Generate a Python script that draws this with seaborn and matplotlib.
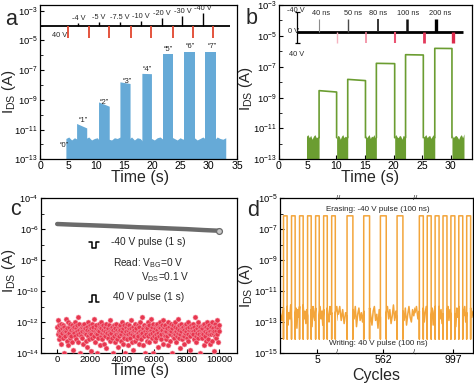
import numpy as np
import matplotlib
matplotlib.use("Agg")
import matplotlib.pyplot as plt
import seaborn as sns
from matplotlib.ticker import FixedLocator, FuncFormatter, NullFormatter

sns.set_theme(style="ticks")
plt.rcParams["font.family"] = ["Liberation Sans", "DejaVu Sans"]
plt.rcParams["mathtext.default"] = "regular"

# ---------------- panel a data (log10 of I_DS) ----------------
a_xticks = [0, 5, 10, 15, 20, 25, 30, 35]
a_noise_span = [4.6, 33.0]
a_noise_top = [-11.6, -11.5, -11.7, -11.55, -11.65, -11.5, -11.75, -11.6, -11.5, -11.7,
               -11.6, -11.55, -11.8, -11.6, -11.5, -11.65, -11.7, -11.55, -11.6, -11.5,
               -11.75, -11.6, -11.65, -11.5, -11.7, -11.55, -11.6, -11.8, -11.5, -11.65,
               -11.6, -11.7, -11.55, -11.5, -11.65, -11.6, -11.75, -11.5, -11.6, -11.7,
               -11.55, -11.65, -11.5, -11.6, -11.8, -11.55, -11.7, -11.6, -11.5, -11.65,
               -11.6, -11.55, -11.7, -11.5, -11.6, -11.65, -11.55]
a_block_start = [6.5, 10.4, 14.2, 18.1, 21.8, 25.6, 29.4]
a_block_end = [8.3, 12.3, 16.0, 19.8, 23.7, 27.5, 31.3]
a_block_top_start = [-10.59, -9.14, -7.79, -7.22, -5.92, -5.76, -5.76]
a_block_top_end = [-10.89, -9.43, -7.90, -7.24, -5.92, -5.76, -5.76]
a_state_labels = ["\u201c0\u201d", "\u201c1\u201d", "\u201c2\u201d", "\u201c3\u201d",
                  "\u201c4\u201d", "\u201c5\u201d", "\u201c6\u201d", "\u201c7\u201d"]
a_state_t = [4.3, 7.7, 11.5, 15.5, 19.1, 22.8, 26.8, 30.6]
a_state_e = [-12.05, -10.4, -9.2, -7.74, -6.95, -5.6, -5.43, -5.43]
a_timeline_level = -4.01
a_timeline_span = [0.0, 33.7]
a_erase_labels = ["-4 V", "-5 V", "-7.5 V", "-10 V", "-20 V", "-30 V", "-40 V"]
a_erase_t = [6.8, 10.5, 14.2, 17.9, 21.6, 25.3, 29.0]
a_erase_top = [-3.85, -3.78, -3.73, -3.67, -3.51, -3.36, -3.18]
a_write_t = [4.9, 8.76, 12.3, 16.2, 19.8, 23.6, 27.2, 30.8]
a_write_bottom = -4.86
a_write_label = "40 V"
a_write_label_pos = [3.55, -4.64]

# ---------------- panel b data ----------------
b_xticks = [0, 5, 10, 15, 20, 25, 30]
b_noise_start = [4.8, 10.06, 15.1, 20.2, 25.2, 30.2]
b_noise_end = [7.0, 12.0, 17.0, 22.1, 27.2, 32.3]
b_noise_top = [
    [-11.5, -11.4, -11.6, -11.45, -11.7, -11.5, -11.4, -11.6, -11.55, -11.45],
    [-11.6, -11.45, -11.5, -11.7, -11.5, -11.4, -11.6, -11.5, -11.55, -11.45],
    [-11.45, -11.6, -11.5, -11.4, -11.65, -11.5, -11.55, -11.4, -11.6, -11.5],
    [-11.5, -11.4, -11.55, -11.6, -11.45, -11.5, -11.7, -11.45, -11.5, -11.4],
    [-11.55, -11.5, -11.4, -11.6, -11.5, -11.45, -11.65, -11.5, -11.4, -11.55],
    [-11.4, -11.6, -11.5, -11.45, -11.55, -11.7, -11.5, -11.4, -11.6, -11.35],
]
b_block_start = [7.0, 12.0, 17.0, 22.1, 27.2]
b_block_end = [10.06, 15.1, 20.2, 25.2, 30.2]
b_block_top_start = [-8.55, -7.82, -6.78, -6.22, -5.81]
b_block_top_end = [-8.64, -7.90, -6.80, -6.24, -5.82]
b_block_floor = -11.6
b_timeline_level = -4.73
b_timeline_span = [3.2, 32.2]
b_bar_t = 3.2
b_bar_range = [-3.43, -5.48]
b_bar_labels = ["-40 V", "0 V", "40 V"]
b_bar_label_t = [2.88, 2.55, 3.1]
b_bar_label_e = [-3.38, -4.73, -6.18]
b_erase_t = [7.04, 12.1, 17.2, 22.3, 27.4]
b_erase_top = -3.9
b_erase_labels = ["40 ns", "50 ns", "80 ns", "100 ns", "200 ns"]
b_erase_label_t = [7.3, 13.0, 17.3, 22.5, 28.1]
b_erase_colors = ["#8c8c8c", "#4a4a4a", "#262626", "#111111", "#000000"]
b_erase_widths = [0.8, 1.0, 1.3, 1.8, 2.4]
b_write_t = [10.07, 15.14, 20.26, 25.3, 30.3]
b_write_bottom = -5.48
b_write_colors = ["#f5b3c0", "#f07d95", "#ea5473", "#e33a5c", "#dc2a4c"]
b_write_widths = [1.0, 1.1, 1.5, 2.0, 2.4]

# ---------------- panel c data ----------------
c_xticks = [0, 2000, 4000, 6000, 8000, 10000]
c_time = [0, 1000, 2000, 3000, 4000, 5000, 6000, 7000, 8000, 9000, 10000]
c_erased = [2.1e-6, 1.9e-6, 1.75e-6, 1.6e-6, 1.45e-6, 1.3e-6, 1.2e-6, 1.08e-6, 0.98e-6, 0.86e-6, 0.77e-6]
c_written_exp = [
    -12.3, -12.8, -11.9, -12.6, -13.1, -12.2, -12.9, -12.5, -13.4, -12.1, -12.7, -12.4, -13.0, -12.2, -12.6, -14.0, -12.3, -12.9, -12.5, -11.8,
    -12.6, -13.2, -12.4, -12.0, -12.8, -13.5, -12.3, -12.7, -12.1, -13.0, -12.5, -12.9, -13.3, -12.2, -12.6, -12.4, -13.8, -12.7, -12.3, -12.0,
    -12.9, -12.4, -13.1, -12.2, -12.6, -11.7, -12.8, -13.3, -12.5, -12.1, -12.7, -14.0, -12.4, -12.9, -12.3, -13.0, -12.6, -12.2, -13.4, -12.5,
    -12.1, -12.7, -12.4, -13.2, -12.8, -12.3, -13.6, -12.5, -12.0, -12.9, -12.6, -13.1, -12.2, -12.7, -13.9, -12.4, -12.8, -12.1, -13.0, -12.5,
    -12.3, -12.9, -11.8, -12.6, -13.3, -12.4, -12.7, -12.2, -14.0, -12.8, -12.5, -13.0, -12.1, -12.6, -13.5, -12.3, -12.9, -12.4, -12.0, -12.7,
    -13.1, -12.5, -12.2, -12.8, -13.4, -12.6, -12.3, -12.9, -12.1, -13.7, -12.5, -12.7, -12.4, -13.0, -12.2, -12.8, -13.2, -12.6, -11.9, -12.4,
    -12.7, -13.0, -12.3, -12.5, -14.0, -12.9, -12.2, -12.6, -13.3, -12.4, -12.8, -12.1, -13.1, -12.5, -12.7, -13.6, -12.3, -12.9, -12.6, -12.2,
    -12.5, -13.2, -12.8, -12.0, -12.6, -13.4, -12.4, -12.9, -12.2, -13.0, -12.7, -14.0, -12.3, -12.6, -12.1, -13.1, -12.8, -12.5, -13.5, -12.4,
    -12.2, -12.7, -13.0, -12.4, -11.9, -12.8, -13.3, -12.6, -12.3, -13.8, -12.5, -12.9, -12.1, -13.2, -12.6, -12.4, -12.8, -13.0, -12.2, -12.7,
    -12.9, -12.3, -13.4, -12.6, -12.0, -12.8, -13.1, -12.5, -11.7, -12.7, -13.5, -12.4, -12.9, -12.2, -14.0, -12.6, -12.3, -12.8, -13.2, -12.5,
    -12.4, -12.0, -12.9, -13.3, -12.2, -12.6, -12.8, -11.8, -12.5, -13.0, -12.3, -12.7, -14.0, -12.1, -12.6, -12.9, -13.2, -12.4, -12.2, -12.8,
    -13.0, -12.5, -12.1, -12.7, -13.6, -12.3, -12.9, -12.4, -12.0, -12.6, -13.1, -12.8, -12.2, -12.5, -11.9, -13.4, -12.7, -12.3, -12.9, -12.6,
    -12.2, -13.1, -12.6, -12.4, -12.9, -12.0, -13.5, -12.7, -12.3, -12.8, -12.5, -13.2, -12.1, -12.6, -14.0, -12.4, -12.9, -12.2, -13.0, -12.7,
    -12.8, -12.3, -12.0, -13.3, -12.6, -12.4, -12.9, -11.8, -12.7, -13.0, -12.2, -12.5, -13.7, -12.8, -12.1, -12.6, -12.4, -13.1, -12.3, -12.9,
    -12.5, -12.9, -13.4, -12.2, -12.7, -12.1, -12.6, -13.0, -12.4, -12.8, -12.0, -13.2, -12.5, -12.3, -12.9, -13.8, -12.6, -12.2, -12.7, -12.4,
    -12.1, -12.6, -12.8, -13.1, -12.3, -12.5, -11.7, -12.9, -13.3, -12.4, -12.7, -12.2, -12.0, -13.0, -12.6, -12.8, -14.0, -12.3, -12.5, -12.9,
    -12.7, -12.4, -13.0, -12.2, -12.8, -13.5, -12.1, -12.6, -12.9, -12.3, -13.2, -12.5, -12.0, -12.7, -12.4, -13.1, -12.8, -12.2, -12.6, -13.4,
    -12.3, -12.8, -12.5, -12.0, -13.2, -12.7, -12.4, -13.9, -12.6, -12.1, -12.9, -12.3, -13.0, -12.6, -11.9, -12.8, -12.4, -13.3, -12.2, -12.6,
]
c_written_span = [0, 10000]

# ---------------- panel d data ----------------
d_high = -6.15
d_dip = -14.1
d1_cycles = [1, 2, 3, 4, 5, 6, 7]
d2_cycles = [560, 561, 562, 563]
d3_cycles = [993, 994, 995, 996, 997, 998, 999]
d_tick_labels = ["5", "562", "997"]
d1_noise = [
    [-12.3, -12.9, -12.1],
    [-12.0, -13.2, -12.4, -12.8, -11.9, -13.0],
    [-12.5, -12.1, -13.4, -12.2, -12.7, -12.0],
    [-11.9, -12.8, -12.3, -13.1, -12.2, -12.6],
    [-12.2, -13.3, -12.0, -12.6, -12.9, -12.1],
    [-12.6, -12.0, -12.8, -12.3, -13.2, -12.2],
    [-12.1, -12.7, -13.0, -12.0, -12.5, -12.4],
    [-12.4, -12.0, -12.9],
]
d2_noise = [
    [-12.5, -12.0, -12.9, -12.2, -13.1, -12.4, -12.7],
    [-12.2, -12.8, -12.0, -13.3, -12.5, -12.1, -12.9, -12.4, -13.0, -12.3],
    [-12.1, -12.6, -13.2, -12.3, -12.0, -12.9, -12.5, -13.4, -12.2, -12.7],
    [-12.4, -12.0, -12.8, -12.2, -13.1, -12.6, -11.9, -12.9, -12.3, -13.0],
    [-12.3, -12.9, -12.1, -13.2, -12.5, -12.0, -12.7, -13.0, -12.2, -12.6, -12.1],
]
d3_noise = [
    [-12.4, -12.0, -12.8, -12.3],
    [-12.1, -13.0, -12.4, -12.0, -12.7],
    [-12.6, -12.1, -13.2, -12.3, -12.0],
    [-12.0, -12.8, -12.2, -13.1, -12.5],
    [-12.3, -12.0, -12.9, -12.2, -12.6],
    [-12.5, -13.3, -12.1, -12.7, -12.0],
    [-12.2, -12.6, -12.0, -13.0, -12.4],
    [-12.1, -12.7, -12.3],
]

# ---------------- styling ----------------
W, H = 474, 386
blue = "#66aad7"
green = "#6b9d31"
red_a = "#e2472f"
red_c = "#e8364f"
gray = "#6b6b6b"
orange = "#f3a53b"


def fr(px_left, px_top, px_right, px_bottom):
    return [px_left / W, 1 - px_bottom / H, (px_right - px_left) / W, (px_bottom - px_top) / H]


def log_fmt(v, pos):
    return r"$\mathregular{10^{%d}}$" % int(round(np.log10(v)))


def style_log(ax, lo, hi, label_exps, xfs, yfs):
    ax.set_yscale("log")
    ax.set_ylim(10.0 ** lo, 10.0 ** hi)
    ax.yaxis.set_major_locator(FixedLocator([10.0 ** e for e in label_exps]))
    minors = [10.0 ** e for e in range(int(np.floor(lo)), int(np.ceil(hi)) + 1) if e not in label_exps]
    ax.yaxis.set_minor_locator(FixedLocator(minors))
    ax.yaxis.set_major_formatter(FuncFormatter(log_fmt))
    ax.yaxis.set_minor_formatter(NullFormatter())
    ax.tick_params(axis="both", which="major", direction="in", length=3, width=0.8,
                   colors="black", pad=1.5)
    ax.tick_params(axis="y", which="minor", direction="in", length=2, width=0.7)
    ax.tick_params(axis="x", which="major", labelsize=xfs)
    ax.tick_params(axis="y", which="major", labelsize=yfs)
    ax.tick_params(top=False, right=False, which="both")
    for s in ax.spines.values():
        s.set_linewidth(0.9)
        s.set_color("black")


fig = plt.figure(figsize=(W / 100, H / 100), dpi=100)
ylab = r"$\mathregular{I_{DS}}$ (A)"
ylab_fs = 10.8

# ================= panel a =================
ax = fig.add_axes(fr(40, 5, 237, 159.3))
style_log(ax, -13, -2.62, [-3, -5, -7, -9, -11, -13], 7.6, 6.8)
ax.set_xlim(0, 35)
ax.set_xticks(a_xticks)
tn = np.linspace(a_noise_span[0], a_noise_span[1], len(a_noise_top))
ax.fill_between(tn, 1e-14, 10.0 ** np.array(a_noise_top), color=blue, lw=0)
for s, e, ts, te in zip(a_block_start, a_block_end, a_block_top_start, a_block_top_end):
    ax.fill_between([s, e], 1e-14, [10.0 ** ts, 10.0 ** te], color=blue, lw=0)
for lab, t, e in zip(a_state_labels, a_state_t, a_state_e):
    ax.text(t, 10.0 ** e, lab, ha="center", va="center", fontsize=5.5)
ax.plot(a_timeline_span, [10.0 ** a_timeline_level] * 2, color="black", lw=1.3,
        solid_capstyle="butt")
ax.vlines(a_erase_t, 10.0 ** a_timeline_level, 10.0 ** np.array(a_erase_top), color="black", lw=1.0)
ax.vlines(a_write_t, 10.0 ** a_write_bottom, 10.0 ** a_timeline_level, color=red_a, lw=1.3)
for lab, t, e in zip(a_erase_labels, a_erase_t, a_erase_top):
    ax.text(t, 10.0 ** (e + 0.06), lab, ha="center", va="bottom", fontsize=5.3)
ax.text(a_write_label_pos[0], 10.0 ** a_write_label_pos[1], a_write_label, ha="center",
        va="center", fontsize=5.3)
ax.set_xlabel("Time (s)", fontsize=11.5)
ax.set_ylabel(ylab, fontsize=ylab_fs)
ax.xaxis.set_label_coords(140 / W, 1 - 170 / H, transform=fig.transFigure)
ax.yaxis.set_label_coords(18.5 / W, 1 - 91.7 / H, transform=fig.transFigure)

# ================= panel b =================
ax = fig.add_axes(fr(279, 5, 472, 159.3))
style_log(ax, -13, -3, [-3, -5, -7, -9, -11, -13], 7.6, 6.8)
ax.set_xlim(0, 33.7)
ax.set_xticks(b_xticks)
for s, e, vals in zip(b_noise_start, b_noise_end, b_noise_top):
    tx = np.linspace(s, e, len(vals))
    ax.fill_between(tx, 1e-14, 10.0 ** np.array(vals), color=green, lw=0)
for s, e, ts, te in zip(b_block_start, b_block_end, b_block_top_start, b_block_top_end):
    sns.lineplot(x=[s, s, e, e], y=10.0 ** np.array([b_block_floor, ts, te, b_block_floor]),
                 sort=False, estimator=None, color=green, lw=1.2, ax=ax)
ax.plot(b_timeline_span, [10.0 ** b_timeline_level] * 2, color="black", lw=2.0,
        solid_capstyle="butt")
ax.errorbar([b_bar_t], [10.0 ** np.mean(b_bar_range)], fmt="none", ecolor="black",
            yerr=[[10.0 ** np.mean(b_bar_range) - 10.0 ** b_bar_range[1]],
                  [10.0 ** b_bar_range[0] - 10.0 ** np.mean(b_bar_range)]],
            elinewidth=0.9, capsize=1.8, capthick=0.9)
for lab, t, e in zip(b_bar_labels, b_bar_label_t, b_bar_label_e):
    ax.text(t, 10.0 ** e, lab, ha="center", va="center", fontsize=5.3)
for t, c, w in zip(b_erase_t, b_erase_colors, b_erase_widths):
    ax.vlines(t, 10.0 ** b_timeline_level, 10.0 ** b_erase_top, color=c, lw=w)
for t, c, w in zip(b_write_t, b_write_colors, b_write_widths):
    ax.vlines(t, 10.0 ** b_write_bottom, 10.0 ** b_timeline_level, color=c, lw=w)
for lab, t in zip(b_erase_labels, b_erase_label_t):
    ax.text(t, 10.0 ** -3.58, lab, ha="center", va="center", fontsize=5.3)
ax.set_xlabel("Time (s)", fontsize=11.5)
ax.set_ylabel(ylab, fontsize=ylab_fs)
ax.xaxis.set_label_coords(370 / W, 1 - 170 / H, transform=fig.transFigure)
ax.yaxis.set_label_coords(255 / W, 1 - 89 / H, transform=fig.transFigure)

# ================= panel c =================
ax = fig.add_axes(fr(41, 198, 237, 353))
style_log(ax, -14, -4, [-4, -6, -8, -10, -12, -14], 6.8, 6.6)
ax.set_xlim(-1000, 11100)
ax.set_xticks(c_xticks)
sns.lineplot(x=c_time, y=c_erased, color=gray, lw=3.2, ax=ax, estimator=None)
ax.plot(c_time[-1], c_erased[-1], "o", ms=4.2, mfc="#c8c8c8", mec=gray, mew=0.9)
c_t = np.linspace(c_written_span[0], c_written_span[1], len(c_written_exp))
sns.scatterplot(x=c_t, y=10.0 ** np.array(c_written_exp), s=13, color=red_c,
                edgecolor="#f59aa8", linewidth=0.4, ax=ax, legend=False, zorder=3)
tr = ax.transAxes
ax.plot([0.246, 0.262, 0.262, 0.282, 0.282, 0.298], [0.718, 0.718, 0.675, 0.675, 0.718, 0.718],
        color="black", lw=1.1, transform=tr)
ax.plot([0.246, 0.262, 0.262, 0.282, 0.282, 0.298], [0.331, 0.331, 0.374, 0.374, 0.331, 0.331],
        color="black", lw=1.1, transform=tr)
ax.text(0.355, 0.718, "-40 V pulse (1 s)", transform=tr, fontsize=7.3, va="center")
ax.text(0.365, 0.579, r"Read: $\mathregular{V_{BG}}$=0 V", transform=tr, fontsize=7.3, va="center")
ax.text(0.51, 0.49, r"$\mathregular{V_{DS}}$=0.1 V", transform=tr, fontsize=7.3, va="center")
ax.text(0.365, 0.363, "40 V pulse (1 s)", transform=tr, fontsize=7.3, va="center")
ax.set_xlabel("Time (s)", fontsize=11.5)
ax.set_ylabel(ylab, fontsize=ylab_fs)
ax.xaxis.set_label_coords(140 / W, 1 - 363 / H, transform=fig.transFigure)
ax.yaxis.set_label_coords(18.5 / W, 1 - 271 / H, transform=fig.transFigure)

# ================= panel d =================
def pulse_trace(cycles, width, noise, xlim):
    starts = [xlim[0]] + [c + width / 2 for c in cycles]
    ends = [c - width / 2 for c in cycles] + [xlim[1]]
    xs, ys = [], []
    for i, (g0, g1) in enumerate(zip(starts, ends)):
        vals = noise[i]
        xs += list(np.linspace(g0, g1, len(vals)))
        ys += list(vals)
        if i < len(cycles):
            c = cycles[i]
            xs += [c - width / 2, c - width / 2, c + width / 2, c + width / 2]
            ys += [d_dip, d_high, d_high, d_dip]
    return np.array(xs), 10.0 ** np.array(ys)


d_specs = [
    (fr(280, 198, 338.3, 353), d1_cycles, 0.45, d1_noise, (0.34, 7.6), 5),
    (fr(338.3, 198, 415, 353), d2_cycles, 0.35, d2_noise, (559.3, 563.9), 562),
    (fr(415, 198, 473, 353), d3_cycles, 0.5, d3_noise, (992.2, 999.55), 997),
]
d_axes = []
for i, (rect, cyc, w, noise, xl, tk) in enumerate(d_specs):
    ax = fig.add_axes(rect)
    style_log(ax, -15, -5, [-5, -7, -9, -11, -13, -15], 7.6, 6.8)
    ax.set_xlim(*xl)
    xs, ys = pulse_trace(cyc, w, noise, xl)
    sns.lineplot(x=xs, y=ys, sort=False, estimator=None, color=orange, lw=1.1, ax=ax)
    ax.set_xticks([tk])
    ax.set_xticklabels([d_tick_labels[i]])
    if i > 0:
        ax.spines["left"].set_visible(False)
        ax.tick_params(axis="y", which="both", left=False, labelleft=False)
    if i < 2:
        ax.spines["right"].set_visible(False)
        for yy in (0, 1):
            ax.text(1, yy, "//", transform=ax.transAxes, ha="center", va="center",
                    fontsize=5.5, clip_on=False)
    d_axes.append(ax)

d_axes[0].set_ylabel(ylab, fontsize=ylab_fs)
d_axes[0].yaxis.set_label_coords(255 / W, 1 - 286 / H, transform=fig.transFigure)
d_axes[1].set_xlabel("Cycles", fontsize=11.5)
d_axes[1].xaxis.set_label_coords(376 / W, 1 - 368 / H, transform=fig.transFigure)
fig.text(378.3 / W, 1 - 209.7 / H, "Erasing: -40 V pulse (100 ns)", ha="center", va="center",
         fontsize=5.8)
fig.text(378 / W, 1 - 343.3 / H, "Writing: 40 V pulse (100 ns)", ha="center", va="center",
         fontsize=5.8)

# panel letters
for lab, x, y in [("a", 5, 25), ("b", 246, 24), ("c", 10, 214.7), ("d", 247, 216.3)]:
    fig.text(x / W, 1 - y / H, lab, fontsize=15.5, ha="left", va="baseline")

fig.savefig("out.png", dpi=100)
